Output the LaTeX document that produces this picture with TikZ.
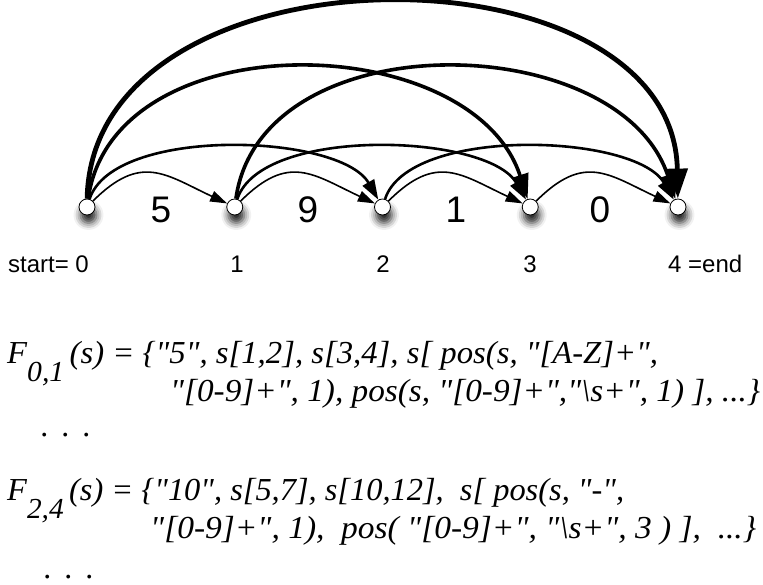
\documentclass[tikz,border=0pt]{standalone}
\usepackage{fontspec}
\setmainfont{Liberation Serif}[Ligatures=TeXOff]
\setsansfont{Liberation Sans}
\usetikzlibrary{arrows.meta,shadows.blur}

\begin{document}
\begin{tikzpicture}[x=1pt,y=1pt,node distance=147.75pt,
    cut/.style={shape=circle,draw,fill=white,line width=0.8pt,minimum size=16pt,inner sep=0pt,
      blur shadow={shadow xshift=1.5pt,shadow yshift=-8pt,shadow blur radius=7pt,shadow opacity=85}},
    hopa/.style={line width=1.6pt,-{Triangle[length=17pt,width=11pt]},out=45,in=155,looseness=1.3},
    hopb/.style={line width=2.6pt,-{Triangle[length=20pt,width=13pt]},out=72,in=120,looseness=0.68},
    hopc/.style={line width=3.6pt,-{Triangle[length=25pt,width=17pt]},out=82,in=108,looseness=1.05},
    hopd/.style={line width=4.8pt,-{Triangle[length=30pt,width=20pt]},out=89,in=91,looseness=1.13},
    digit/.style={anchor=base,inner sep=0pt,font=\sffamily\fontsize{37}{37}\selectfont},
    lab/.style={anchor=base,inner sep=0pt,font=\sffamily\fontsize{24}{24}\selectfont},
    fline/.style={anchor=base west,inner sep=0pt,font=\fontsize{32}{32}\selectfont\itshape}]
  \useasboundingbox (0,0) rectangle (763,-585);

  % cut points of the string
  \node (c0) [cut] at (87,-207) {};
  \node (c1) [cut] [right of = c0] {};
  \node (c2) [cut] [right of = c1] {};
  \node (c3) [cut] [right of = c2] {};
  \node (c4) [cut] [right of = c3] {};

  \node (d5) [digit] at (161,-223) {5};
  \node (d9) [digit] at (308,-223) {9};
  \node (d1) [digit] at (456,-223) {1};
  \node (d0) [digit] at (600,-223) {0};

  \node (l0) [lab,anchor=base east] at (89,-273) {start= 0};
  \node (l1) [lab] at (237,-273) {1};
  \node (l2) [lab] at (383,-273) {2};
  \node (l3) [lab] at (530,-273) {3};
  \node (l4) [lab,anchor=base west] at (668,-273) {4 =end};

  % substrings
  \path (c0) edge [hopa] (c1);
  \path (c1) edge [hopa] (c2);
  \path (c2) edge [hopa] (c3);
  \path (c3) edge [hopa] (c4);
  \path (c0) edge [hopb] (c2);
  \path (c1) edge [hopb] (c3);
  \path (c2) edge [hopb] (c4);
  \path (c0) edge [hopc] (c3);
  \path (c1) edge [hopc] (c4);
  \path (c0) edge [hopd] (c4);

  % formulas
  \node (fa) [fline] at (7,-363) {\resizebox{651pt}{\height}{F\raisebox{-18pt}{\fontsize{29}{29}\selectfont 0,1}\,(s) = \{"5", s[1,2], s[3,4], s[ pos(s, "[A-Z]+",}};
  \node (fb) [fline] at (170,-401) {\resizebox{590pt}{\height}{"[0-9]+", 1), pos(s, "[0-9]+","\textbackslash s+", 1) ], ...\}}};
  \node (dotsa) [fline] at (41,-436) {.\hspace{13pt}.\hspace{13pt}.};
  \node (fc) [fline] at (7,-500) {\resizebox{617pt}{\height}{F\raisebox{-18pt}{\fontsize{29}{29}\selectfont 2,4}\,(s) = \{"10", s[5,7], s[10,12],\ \ s[ pos(s, "-",}};
  \node (fd) [fline] at (150,-538) {\resizebox{606pt}{\height}{"[0-9]+", 1),\ \ pos( "[0-9]+", "\textbackslash s+", 3 ) ],\ \ ...\}}};
  \node (dotsb) [fline] at (44,-578) {.\hspace{13pt}.\hspace{13pt}.};
\end{tikzpicture}
\end{document}
